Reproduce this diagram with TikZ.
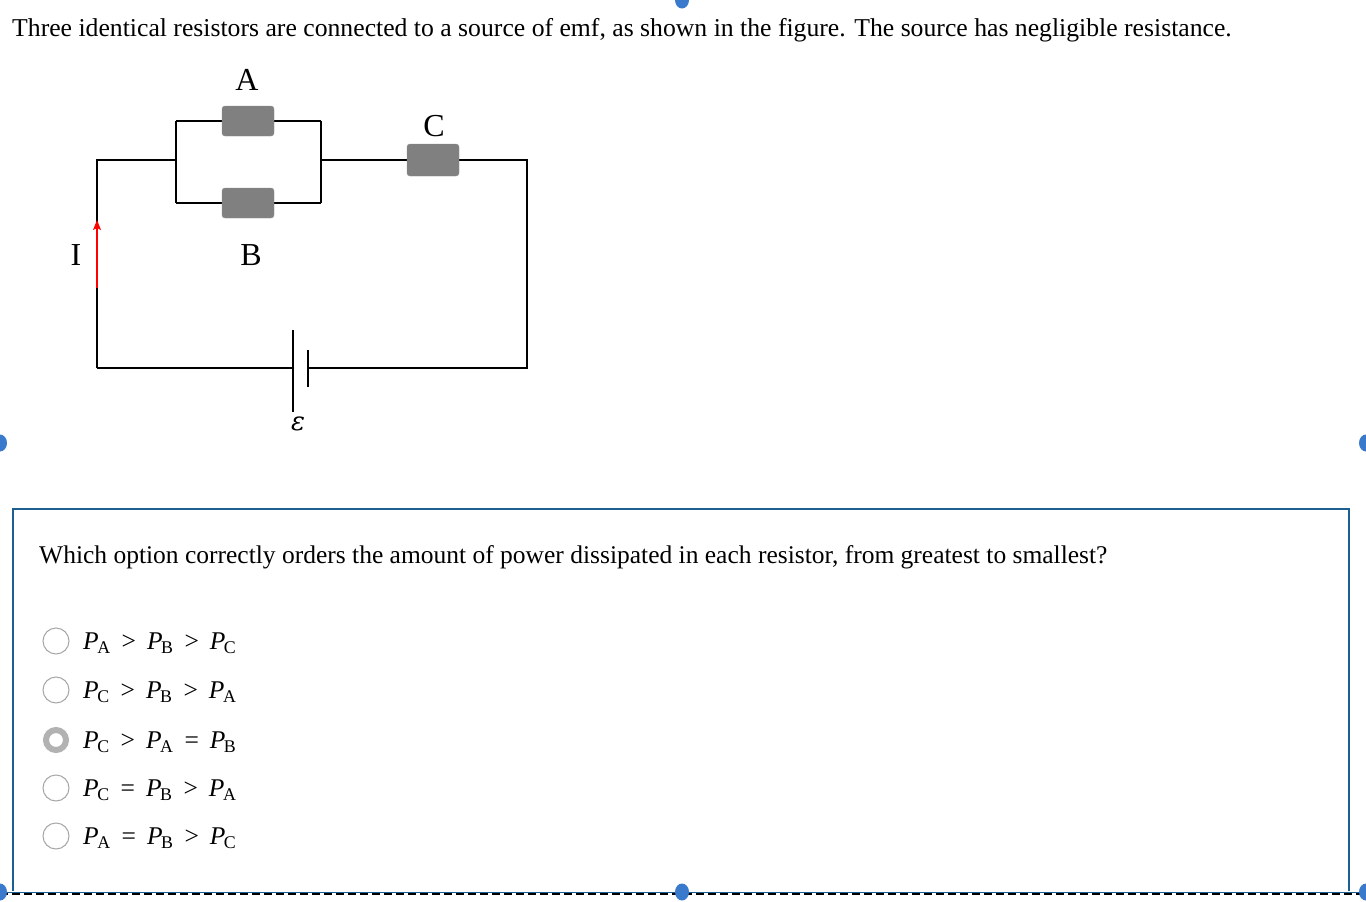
\documentclass[tikz,border=0pt]{standalone}
\usepackage{fontspec}
\setmainfont{Liberation Serif}
\usetikzlibrary{arrows.meta,shapes.geometric}
\definecolor{resgray}{RGB}{128,128,128}
\definecolor{boxblue}{RGB}{30,95,145}
\definecolor{handle}{RGB}{58,122,204}
\newcommand{\Pv}[1]{\textit{P}\textsubscript{\kern-1.5pt#1}}
\newcommand{\gtr}{\kern11pt>\kern11pt}
\newcommand{\eqq}{\kern11pt=\kern11pt}
\begin{document}
\begin{tikzpicture}[x=1pt,y=-1pt,
  wire/.style={line width=1.8pt,black},
  res/.style={draw=resgray!90,fill=resgray,rounded corners=3pt,minimum width=52pt,minimum height=30pt,inner sep=0},
  lbl/.style={font=\fontsize{32}{32}\selectfont,inner sep=0},
  opt/.style={font=\fontsize{25.5}{25.5}\selectfont,anchor=west,inner sep=0},
  radio/.style={draw=gray!70,line width=1pt,fill=white,circle,minimum size=26pt,inner sep=0},
  dot/.style={fill=handle,ellipse,inner sep=0,minimum width=14pt,minimum height=17pt}]
\useasboundingbox (0,0) rectangle (1366,902);
\node[font=\fontsize{25.7}{25.7}\selectfont,anchor=west,inner sep=0] (title) at (12,30) {Three identical resistors are connected to a source of emf, as shown in the figure. The source has negligible resistance.};
% circuit
\coordinate (tl) at (97,160); \coordinate (bl) at (97,368);
\coordinate (jl) at (176,160); \coordinate (jr) at (321,160);
\coordinate (tr) at (527,160); \coordinate (br) at (527,368);
\draw[wire] (bl) -- (tl) -- (jl);
\draw[wire] (176,121) -- (176,203);
\draw[wire] (321,121) -- (321,203);
\draw[wire] (176,121) -- (321,121);
\draw[wire] (176,203) -- (321,203);
\draw[wire] (jr) -- (tr) -- (br) -- (308,368);
\draw[wire] (bl) -- (293,368);
\draw[line width=2.4pt] (293,330) -- (293,412);
\draw[line width=2.4pt] (308,350) -- (308,387);
\node[res] (A) at (248,121) {};
\node[res] (B) at (248,203) {};
\node[res,minimum height=32pt] (C) at (433,160) {};
\draw[red,line width=1.8pt] (97,288) -- (97,228);
\fill[red] (97,220) -- (101,230) -- (97,228) -- (93,230) -- cycle;
\node[lbl] (lA) at (247,80) {A};
\node[lbl] (lB) at (251,255) {B};
\node[lbl] (lC) at (434,126) {C};
\node[lbl] (lI) at (76,255) {I};
\node[font=\fontsize{26}{26}\selectfont\itshape,inner sep=0] (eps) at (298,424) {\fontspec{DejaVu Serif}\itshape ε};
% box
\draw[color=boxblue,line width=1.2pt] (13,891) -- (13,509) -- (1349,509) -- (1349,891);
\draw[color=boxblue,line width=1pt] (0,892) -- (1366,892);
\draw[black,line width=1.6pt,dash pattern=on 8pt off 4pt] (0,894) -- (1366,894);
\node[font=\fontsize{25.5}{25.5}\selectfont,anchor=west,inner sep=0] (q) at (39,557) {Which option correctly orders the amount of power dissipated in each resistor, from greatest to smallest?};
\node[radio] (r1) at (56,641) {};
\node[radio] (r2) at (56,690) {};
\node[circle,draw=gray!60,line width=6pt,fill=white,minimum size=20pt,inner sep=0] (r3) at (56,740) {};
\node[radio] (r4) at (56,788) {};
\node[radio] (r5) at (56,836) {};
\node[opt] (o1) at (83,643) {\Pv{A}\gtr\Pv{B}\gtr\Pv{C}};
\node[opt] (o2) at (83,692) {\Pv{C}\gtr\Pv{B}\gtr\Pv{A}};
\node[opt] (o3) at (83,742) {\Pv{C}\gtr\Pv{A}\eqq\Pv{B}};
\node[opt] (o4) at (83,790) {\Pv{C}\eqq\Pv{B}\gtr\Pv{A}};
\node[opt] (o5) at (83,838) {\Pv{A}\eqq\Pv{B}\gtr\Pv{C}};
% handles
\node[dot] (d1) at (682,0) {};
\node[dot] (d2) at (0,443) {};
\node[dot] (d3) at (1366,443) {};
\node[dot] (d4) at (0,892) {};
\node[dot] (d5) at (682,892) {};
\node[dot] (d6) at (1366,892) {};
\end{tikzpicture}
\end{document}
